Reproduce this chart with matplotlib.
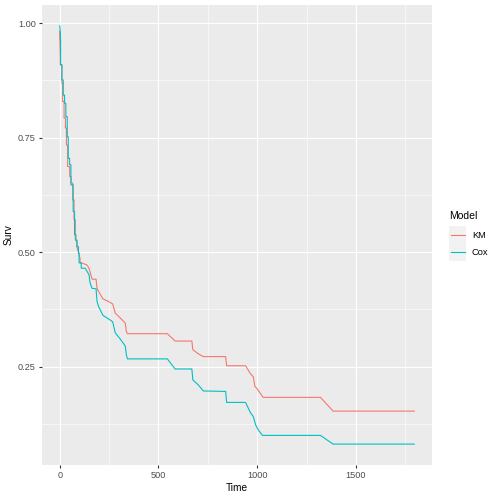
import numpy as np
import matplotlib
matplotlib.use("Agg")
import matplotlib.pyplot as plt
from matplotlib.patches import Rectangle
from matplotlib.lines import Line2D

plt.rcParams['font.family'] = ['Liberation Sans', 'DejaVu Sans']

# survival curves (time, surv)
km_time = [0, 0, 3, 3, 11, 11, 14.5, 14.5, 22, 22, 29, 29, 34, 34, 40, 40, 50.5, 50.5,
           57.5, 57.5, 65.7, 65.7, 72.5, 72.5, 79, 79, 86, 86, 95, 103, 103, 115, 138, 148,
           158, 164, 184, 189, 197, 219, 248, 268, 281, 307, 332, 337, 343, 545, 584, 669,
           674, 702, 727, 840, 845, 941, 965, 980, 988, 997, 1030, 1320, 1384, 1795]
km_surv = [0.982, 0.975, 0.923, 0.909, 0.909, 0.869, 0.869, 0.829, 0.829, 0.793, 0.793,
           0.771, 0.771, 0.734, 0.734, 0.687, 0.687, 0.665, 0.665, 0.651, 0.651, 0.614,
           0.614, 0.571, 0.571, 0.527, 0.527, 0.512, 0.500, 0.486, 0.476, 0.476, 0.472,
           0.465, 0.450, 0.441, 0.441, 0.421, 0.414, 0.398, 0.392, 0.387, 0.367, 0.356,
           0.345, 0.327, 0.322, 0.322, 0.306, 0.306, 0.287, 0.278, 0.272, 0.272, 0.252,
           0.252, 0.235, 0.228, 0.207, 0.203, 0.183, 0.183, 0.153, 0.153]

cox_time = [0, 3, 4.5, 4.5, 11, 11, 17.7, 17.7, 24.5, 24.5, 31, 31, 38, 38, 43, 43, 50, 50,
            56.6, 56.6, 68, 68, 75, 75, 82, 82, 88, 88, 95, 95, 98, 98, 109, 109, 129, 149,
            151, 155, 164, 184, 189, 197, 219, 248, 268, 281, 307, 332, 337, 343, 545, 584,
            669, 674, 702, 727, 840, 845, 941, 965, 980, 992, 1005, 1027, 1320, 1384, 1795]
cox_surv = [0.994, 0.982, 0.960, 0.909, 0.909, 0.876, 0.876, 0.843, 0.843, 0.825, 0.825,
            0.796, 0.796, 0.752, 0.752, 0.705, 0.705, 0.691, 0.691, 0.647, 0.647, 0.589,
            0.589, 0.538, 0.538, 0.525, 0.525, 0.512, 0.512, 0.498, 0.498, 0.477, 0.477,
            0.465, 0.465, 0.450, 0.440, 0.431, 0.421, 0.420, 0.392, 0.381, 0.362, 0.354,
            0.348, 0.324, 0.310, 0.295, 0.276, 0.267, 0.267, 0.245, 0.245, 0.221, 0.210,
            0.197, 0.196, 0.172, 0.172, 0.150, 0.141, 0.123, 0.112, 0.100, 0.100, 0.081,
            0.081]

models = ['KM', 'Cox']
colors = ['#F8766D', '#00BFC4']

fig = plt.figure(figsize=(5, 5), dpi=100)
ax = fig.add_axes([0.084, 0.07, 0.78, 0.92])
ax.set_facecolor('#EBEBEB')
for s in ax.spines.values():
    s.set_visible(False)

ax.plot(km_time, km_surv, color=colors[0], lw=0.8, zorder=3)
ax.plot(cox_time, cox_surv, color=colors[1], lw=0.8, zorder=3)

xmin, xmax = 0, max(km_time)
ymin = min(cox_surv)
ymax = max(cox_surv)
ax.set_xlim(xmin - 0.05 * (xmax - xmin), xmax + 0.05 * (xmax - xmin))
ax.set_ylim(ymin - 0.05 * (ymax - ymin), ymax + 0.05 * (ymax - ymin))

ax.set_xticks([0, 500, 1000, 1500])
ax.set_yticks([0.25, 0.50, 0.75, 1.00])
ax.set_yticklabels(['0.25', '0.50', '0.75', '1.00'])
ax.set_xticks([250, 750, 1250, 1750], minor=True)
ax.set_yticks([0.125, 0.375, 0.625, 0.875], minor=True)
ax.grid(which='major', color='white', lw=0.8)
ax.grid(which='minor', color='white', lw=0.4)
ax.set_axisbelow(True)
ax.tick_params(which='major', length=2.5, width=0.8, color='#333333',
               labelsize=6.6, labelcolor='#4D4D4D', pad=2)
ax.tick_params(which='minor', length=0)

ax.set_xlabel('Time', fontsize=7.3, labelpad=2)
ax.set_ylabel('Surv', fontsize=7.3, labelpad=3)

# legend drawn by hand, like the ggplot guide
fig.text(449 / 500, 1 - 216 / 500, 'Model', fontsize=7.5, ha='left', va='center')
for i, (m, c) in enumerate(zip(models, colors)):
    yc = 235 + i * 17.3
    fig.patches.append(Rectangle((449 / 500, 1 - (yc + 8.6) / 500), 17 / 500, 17.3 / 500,
                                 transform=fig.transFigure, facecolor='#F2F2F2',
                                 edgecolor='none'))
    fig.lines.append(Line2D([450.7 / 500, 464.5 / 500], [1 - yc / 500, 1 - yc / 500],
                            transform=fig.transFigure, color=c, lw=0.8))
    fig.text(472 / 500, 1 - yc / 500, m, fontsize=6.7, ha='left', va='center')

fig.savefig('out.png', dpi=100)
